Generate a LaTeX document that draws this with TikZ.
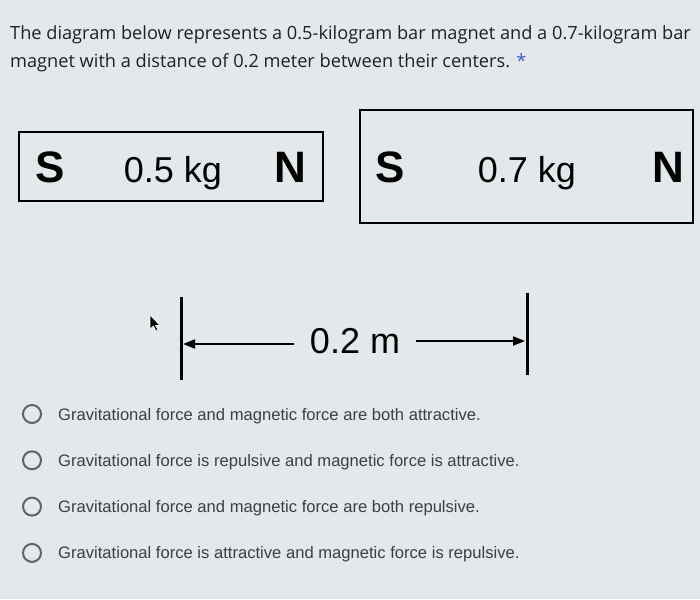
\documentclass[tikz,border=0pt]{standalone}
\usepackage{fontspec}
\setmainfont{Liberation Sans}
\newfontfamily\headfont{Open Sans}
\usetikzlibrary{arrows.meta,positioning}

\definecolor{paper}{HTML}{E3E8EB}
\definecolor{ink}{HTML}{202124}
\definecolor{choiceink}{HTML}{3C4043}
\definecolor{radiogray}{HTML}{5F6368}
\definecolor{starblue}{HTML}{3B5BC5}

\tikzset{
    magnet/.style={draw=black, line width=2.5pt, fill=none},
    pole/.style={anchor=base, font=\fontsize{44}{48}\selectfont\bfseries},
    mass/.style={anchor=base, font=\fontsize{36}{40}\selectfont},
    dimbar/.style={line width=3pt},
    dimarrow/.style={line width=2pt, -{Triangle[length=12pt,width=9pt]}},
    radio/.style={circle, draw=radiogray, line width=2pt, minimum size=18pt, inner sep=0pt},
    choice/.style={anchor=base west, inner sep=0pt, text=choiceink, font=\fontsize{16.6}{19}\selectfont},
    question/.style={anchor=base west, inner sep=0pt, text=ink, font=\headfont\fontsize{18.2}{28}\selectfont}
}

\begin{document}
\begin{tikzpicture}[x=1pt, y=-1pt]
    \useasboundingbox[fill=paper] (0,0) rectangle (700,599);

    % question
    \node[question] (line1) at (10,40)
        {The diagram below represents a 0.5-kilogram bar magnet and a 0.7-kilogram bar};
    \node[question] (line2) at (10,68)
        {magnet with a distance of 0.2 meter between their centers. \textcolor{starblue}{*}};

    % magnets
    \node[magnet, minimum width=304pt, minimum height=69pt] (small) at (171,166.5) {};
    \node[magnet, minimum width=333pt, minimum height=113pt] (large) at (526.5,166.5) {};
    \node[pole] (s1) at (50,182) {S};
    \node[mass] (m1) at (173,182) {0.5 kg};
    \node[pole] (n1) at (290,182) {N};
    \node[pole] (s2) at (390,182) {S};
    \node[mass] (m2) at (527,182) {0.7 kg};
    \node[pole] (n2) at (668,182) {N};

    % distance
    \coordinate (la) at (181,297);
    \coordinate (lb) at (181,380);
    \coordinate (ra) at (527,293);
    \coordinate (rb) at (527,375);
    \coordinate (lmid) at (183,344);
    \coordinate (rmid) at (525,341);
    \draw[dimbar] (la) -- (lb);
    \draw[dimbar] (ra) -- (rb);
    \node[anchor=base, inner xsep=16pt, font=\fontsize{36}{40}\selectfont] (dist) at (355,353) {0.2 m};
    \draw[dimarrow] (dist.west |- lmid) -- (lmid);
    \draw[dimarrow] (dist.east |- rmid) -- (rmid);

    % pointer
    \filldraw[fill=black, draw=white, line width=0.6pt, line join=round]
        (150,315) -- (150,329) -- (153.5,326) -- (156,331) -- (158,330) -- (155.5,325.5) -- (160,325.5) -- cycle;

    % choices
    \foreach \t [count=\i] in {Gravitational force and magnetic force are both attractive.,
                               Gravitational force is repulsive and magnetic force is attractive.,
                               Gravitational force and magnetic force are both repulsive.,
                               Gravitational force is attractive and magnetic force is repulsive.}
    {
        \node[radio] (opt\i) at (32,{414+(\i-1)*46.3}) {};
        \node[choice] (txt\i) at (58,{420+(\i-1)*46.3}) {\t};
    }
\end{tikzpicture}
\end{document}
